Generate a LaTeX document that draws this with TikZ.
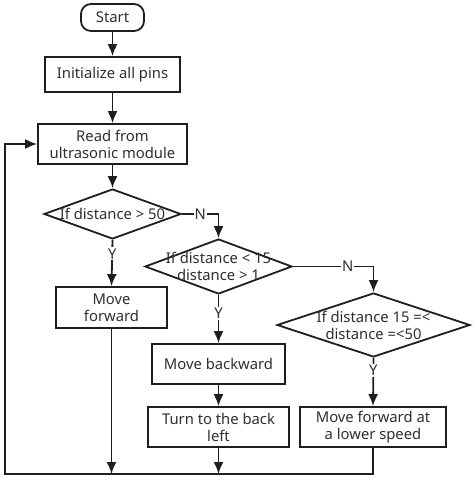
\documentclass[tikz,border=0pt]{standalone}
\usepackage{fontspec}
\setmainfont{Noto Sans}
\usetikzlibrary{arrows.meta,shapes.geometric}
\definecolor{ink}{HTML}{1E1E1E}
\definecolor{txt}{HTML}{2E2E2E}
\begin{document}
\begin{tikzpicture}[x=1pt,y=-1pt,
  line width=1.8pt,
  every node/.style={text=txt,font=\fontsize{14.8}{17}\selectfont},
  box/.style={draw=ink,rectangle,inner sep=0pt,align=center},
  dia/.style={draw=ink,diamond,inner sep=0pt},
  txtnode/.style={align=center,inner sep=0pt},
  lab/.style={fill=white,inner sep=1pt},
  arr/.style={draw=ink,-{Latex[length=12pt,width=10pt]}},
  ln/.style={draw=ink}]
\useasboundingbox (0,0) rectangle (474,481);
\node[box,rounded corners=10pt,minimum width=63pt,minimum height=27pt] (start) at (112.5,17.5) {Start};
\node[box,minimum width=135pt,minimum height=35pt] (init) at (112.5,74.5) {Initialize all pins};
\node[box,minimum width=149pt,minimum height=40pt] (read) at (112.5,144) {Read from\\ultrasonic module};
\node[dia,minimum width=137pt,minimum height=50pt] (d1) at (112.5,214) {};
\node[txtnode] (t1) at (d1) {If distance > 50};
\node[dia,minimum width=147pt,minimum height=55pt] (d2) at (218.5,266.5) {};
\node[txtnode] (t2) at (d2) {If distance < 15\\distance > 1};
\node[dia,minimum width=193pt,minimum height=64pt] (d3) at (373.5,325) {};
\node[txtnode] (t3) at (d3) {If distance 15 =<\\distance =<50};
\node[box,minimum width=111pt,minimum height=41pt] (mf) at (111.5,307.5) {Move\\forward};
\node[box,minimum width=133pt,minimum height=40pt] (mb) at (218.5,364) {Move backward};
\node[box,minimum width=141pt,minimum height=40pt] (tb) at (218.5,427) {Turn to the back\\left};
\node[box,minimum width=146pt,minimum height=40pt] (slow) at (373,427) {Move forward at\\a lower speed};
\coordinate (bl) at (5,474);
\draw[arr] (start) -- (init);
\draw[arr] (init) -- (read);
\draw[arr] (read) -- (d1);
\draw[arr] (d1.east) -- node[lab] (n1) {N} (d1.east -| d2.north) -- (d2.north);
\draw[arr] (d2.east) -- node[lab,pos=0.68] (n2) {N} (d2.east -| d3.north) -- (d3.north);
\draw[arr] (d1.south) -- node[lab,pos=0.3] (y1) {Y} (mf.north);
\draw[arr] (d2.south) -- node[lab,pos=0.38] (y2) {Y} (mb.north);
\draw[arr] (d3.south) -- node[lab,pos=0.26] (y3) {Y} (slow.north);
\draw[arr] (mb) -- (tb);
\draw[arr] (mf.south) -- (mf.south |- bl);
\draw[arr] (tb.south) -- (tb.south |- bl);
\draw[arr] (slow.south) |- (bl) |- (read.west);
\end{tikzpicture}
\end{document}
